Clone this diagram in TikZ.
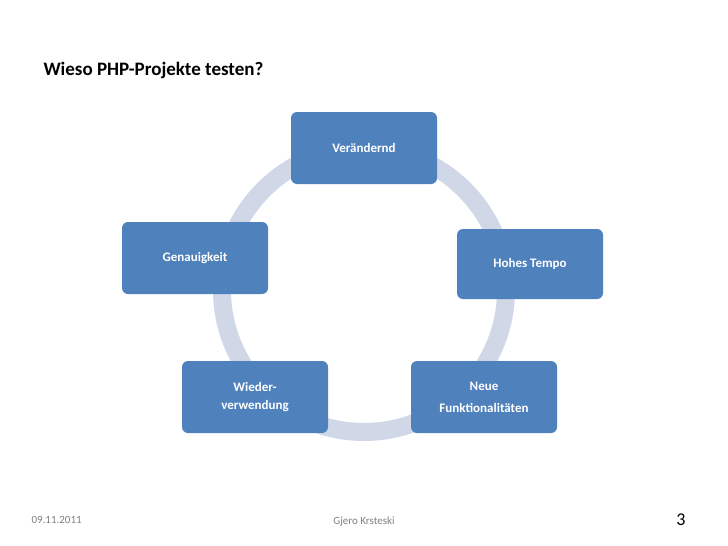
\documentclass[tikz,border=0pt]{standalone}
\usepackage{fontspec}
\setmainfont{Carlito}
\definecolor{boxblue}{HTML}{4F81BD}
\definecolor{ring}{HTML}{D0D8E8}
\begin{document}
\begin{tikzpicture}[x=1pt,y=-1pt,
  cyc/.style={fill=boxblue,rounded corners=6pt,minimum width=146pt,minimum height=72pt,text=white,font=\bfseries\fontsize{13}{18}\selectfont,align=center,inner sep=0pt}]
\useasboundingbox[fill=white] (0,0) rectangle (728,546);
\node[anchor=west,font=\bfseries\fontsize{19}{22}\selectfont] (title) at (40,70) {Wieso PHP-Projekte testen?};
\coordinate (c) at (364,290);
\draw[ring,line width=18pt] (c) circle[radius=142];
\fill[ring] ([shift={(113:142)}]c) -- ([shift={(125:122)}]c) -- ([shift={(125:162)}]c) -- cycle;
\node[cyc] (v) at (364,148) {Verändernd};
\node[cyc,minimum height=70pt] (h) at (530,264) {Hohes Tempo};
\node[cyc] (n) at (484,397) {Neue\\[4pt]Funktionalitäten};
\node[cyc] (w) at (255,397) {Wieder-\\verwendung};
\node[cyc] (g) at (195,258) {Genauigkeit};
\node[anchor=west,text=gray,font=\fontsize{11}{13}\selectfont] (d) at (28,520) {09.11.2011};
\node[text=gray,font=\fontsize{11}{13}\selectfont] (a) at (364,522) {Gjero Krsteski};
\node[font=\fontsize{18}{20}\selectfont] (p) at (681,520) {3};
\end{tikzpicture}
\end{document}
